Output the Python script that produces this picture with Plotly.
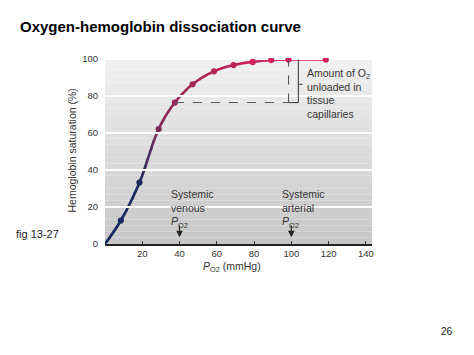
import plotly.graph_objects as go

# ---- data ----
po2 = [0, 8.5, 18.5, 28.8, 37.5, 47, 58.5, 69, 79.3, 89.2, 98.5, 118.5]
sat = [0, 12.7, 33.2, 62.2, 76.5, 86.4, 93.4, 96.8, 98.5, 99.5, 99.8, 99.8]
point_colors = ["#13295e", "#14295e", "#1a2a5e", "#7e2a58", "#952957", "#a52858",
                "#b42659", "#c2235c", "#cc215d", "#d31f5e", "#d81e5f", "#db1e5f"]
x_ticks = [20, 40, 60, 80, 100, 120, 140]
y_ticks = [0, 20, 40, 60, 80, 100]
venous_po2 = 40
arterial_po2 = 100
i_venous, i_arterial = 4, 10

XMAX = 143.3
YMAX = 100.6


def hex2rgb(h):
    h = h.lstrip("#")
    return tuple(int(h[i:i + 2], 16) for i in (0, 2, 4))


def mix(c1, c2, t):
    a, b = hex2rgb(c1), hex2rgb(c2)
    return "rgb(%d,%d,%d)" % tuple(round(a[j] + (b[j] - a[j]) * t) for j in range(3))


fig = go.Figure()
layout_axes = {}

# gradient background bands
n = 30
shapes = []
for k in range(n):
    t = k / (n - 1)
    g = int(round(199 + (240 - 199) * t))
    shapes.append(dict(type="rect", xref="x domain", yref="y domain",
                       x0=0, x1=1, y0=k / n, y1=(k + 1) / n,
                       fillcolor=f"rgb({g},{g},{g})", line_width=0, layer="below"))

# base main-axis trace (invisible) to hold the main subplot
fig.add_trace(go.Scatter(x=[0], y=[0], mode="markers", marker=dict(opacity=0),
                         hoverinfo="skip", showlegend=False))

# the curve: full spline drawn in x-slices (each slice its own clipped subplot) for a colour gradient
ax_id = 2
sub = 3
for i in range(len(po2) - 1):
    a, b = po2[i], po2[i + 1]
    for s in range(sub):
        lo = a + (b - a) * s / sub
        hi = a + (b - a) * (s + 1) / sub + 0.4
        col = mix(point_colors[i], point_colors[i + 1], (s + 0.5) / sub)
        name = f"xaxis{ax_id}"
        layout_axes[name] = dict(domain=[lo / XMAX, min(hi / XMAX, 1)], range=[lo, min(hi, XMAX)],
                                 anchor="y", visible=False, showgrid=False, zeroline=False)
        fig.add_trace(go.Scatter(x=po2, y=sat, mode="lines", xaxis=f"x{ax_id}", yaxis="y",
                                 line=dict(color=col, width=2.6, shape="spline", smoothing=1.0),
                                 hoverinfo="skip", showlegend=False))
        ax_id += 1

# markers on a full-width overlay axis so they sit on top
layout_axes[f"xaxis{ax_id}"] = dict(domain=[0, 1], range=[0, XMAX], anchor="y",
                                    visible=False, showgrid=False, zeroline=False)
fig.add_trace(go.Scatter(x=po2[1:], y=sat[1:], mode="markers", xaxis=f"x{ax_id}", yaxis="y",
                         marker=dict(color=point_colors[1:], size=6.2),
                         showlegend=False))

dash_col = "#555555"
# dashed guides
shapes.append(dict(type="line", xref="x", yref="y", x0=po2[i_venous], x1=po2[i_arterial],
                   y0=sat[i_venous], y1=sat[i_venous], line=dict(color=dash_col, width=1.1, dash="dash")))
shapes.append(dict(type="line", xref="x", yref="y", x0=po2[i_arterial], x1=po2[i_arterial],
                   y0=sat[i_venous], y1=sat[i_arterial], line=dict(color=dash_col, width=1.1, dash="dash")))
# bracket
bx = 103.8
bcol = "#444444"
shapes.append(dict(type="line", xref="x", yref="y", x0=bx, x1=bx, y0=sat[i_venous], y1=sat[i_arterial],
                   line=dict(color=bcol, width=1.1)))
shapes.append(dict(type="line", xref="x", yref="y", x0=po2[i_arterial], x1=bx, y0=sat[i_venous], y1=sat[i_venous],
                   line=dict(color=bcol, width=1.1)))
shapes.append(dict(type="line", xref="x", yref="y", x0=bx, x1=106, y0=86.4, y1=86.4,
                   line=dict(color=bcol, width=1.1)))

tcol = "#333333"
font = "Liberation Sans, Arial, sans-serif"
pO2 = "<i>P</i><sub>O2</sub>"
ann = [
    dict(text="Amount of O<sub>2</sub><br>unloaded in<br>tissue<br>capillaries", x=107.6, y=97.0,
         xref="x", yref="y", xanchor="left", yanchor="top", align="left", showarrow=False,
         font=dict(size=10.5, color=tcol, family=font)),
    dict(text="Systemic<br>venous<br>" + pO2, x=34.3, y=31.5, xref="x", yref="y",
         xanchor="left", yanchor="top", align="left", showarrow=False,
         font=dict(size=10.5, color=tcol, family=font)),
    dict(text="Systemic<br>arterial<br>" + pO2, x=94.0, y=31.5, xref="x", yref="y",
         xanchor="left", yanchor="top", align="left", showarrow=False,
         font=dict(size=10.5, color=tcol, family=font)),
    dict(text="", x=venous_po2, y=3.6, ax=venous_po2, ay=10.8, xref="x", yref="y", axref="x", ayref="y",
         showarrow=True, arrowhead=2, arrowsize=1.1, arrowwidth=1.2, arrowcolor="#222222"),
    dict(text="", x=arterial_po2, y=3.6, ax=arterial_po2, ay=10.8, xref="x", yref="y", axref="x", ayref="y",
         showarrow=True, arrowhead=2, arrowsize=1.1, arrowwidth=1.2, arrowcolor="#222222"),
    dict(text=pO2 + " (mmHg)", x=0.476, y=-0.125, xref="paper", yref="paper",
         xanchor="center", yanchor="middle", showarrow=False,
         font=dict(size=10.5, color=tcol, family=font)),
    dict(text="Hemoglobin saturation (%)", x=-0.122, y=0.505, xref="paper", yref="paper",
         textangle=-90, xanchor="center", yanchor="middle", showarrow=False,
         font=dict(size=10.5, color=tcol, family=font)),
    dict(text="fig 13-27", x=-0.34, y=(244 - 234) / 186, xref="paper", yref="paper",
         xanchor="left", yanchor="middle", showarrow=False,
         font=dict(size=11, color="#222222", family=font)),
    dict(text="26", x=(447 - 105) / 266.7, y=(244 - 331) / 186, xref="paper", yref="paper",
         xanchor="center", yanchor="middle", showarrow=False,
         font=dict(size=10, color="#222222", family=font)),
]

fig.update_layout(
    width=474, height=355,
    margin=dict(l=105, r=102, t=58, b=111),
    paper_bgcolor="white", plot_bgcolor="rgba(0,0,0,0)",
    showlegend=False,
    title=dict(text="<b>Oxygen-hemoglobin dissociation curve</b>", x=20 / 474, xanchor="left",
               y=1 - 27 / 355, yanchor="middle", xref="container", yref="container",
               font=dict(size=15, color="black", family=font)),
    shapes=shapes, annotations=ann,
    **layout_axes,
)
fig.update_layout(
    xaxis=dict(range=[0, XMAX], domain=[0, 1], tickvals=x_ticks, ticks="inside", ticklen=3, tickcolor="#333",
               showline=True, linecolor="#222222", linewidth=1.6, showgrid=False, zeroline=False,
               tickfont=dict(size=9.5, color=tcol, family=font), ticklabelstandoff=0),
    yaxis=dict(range=[0, YMAX], tickvals=y_ticks, ticks="", showline=False,
               showgrid=True, gridcolor="white", gridwidth=1.5, zeroline=False,
               tickfont=dict(size=9.5, color=tcol, family=font), ticklabelstandoff=6),
)

fig.write_html("out.html")
